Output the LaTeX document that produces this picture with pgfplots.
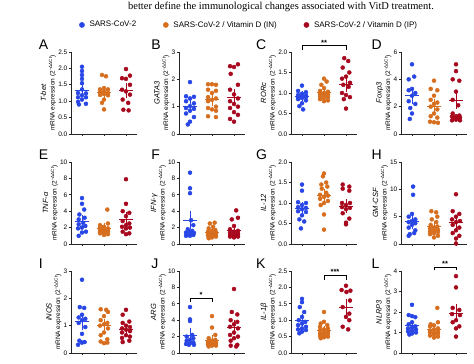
\documentclass[border=0pt]{standalone}
\usepackage{pgfplots}
\pgfplotsset{compat=1.18}
\usepackage{fontspec}
\setmainfont{Liberation Sans}
\newfontfamily\capfont{Liberation Serif}
\definecolor{cb}{RGB}{40,70,230}
\definecolor{co}{RGB}{214,110,30}
\definecolor{cr}{RGB}{168,8,30}
\pgfplotsset{
 panel/.style={
   scale only axis, width=66pt, height=82pt,
   anchor=south west,
   xmin=0.5, xmax=3.5, ymin=0,
   axis lines*=left,
   axis line style={line width=0.7pt, black!85},
   xtick={1,2,3}, xticklabels={},
   tick align=outside,
   major tick length=2.5pt,
   tick style={line width=0.7pt, black!85},
   /pgf/number format/assume math mode=true,
   yticklabel style={font=\fontsize{6.5}{7}\selectfont, inner sep=1pt},
   ylabel style={align=center, font=\fontsize{7.5}{8.5}\selectfont, inner sep=1pt},
   clip=false,
 },
 dec/.style={yticklabel style={/pgf/number format/.cd, fixed, fixed zerofill, precision=1}},
}
\tikzset{letter/.style={font=\fontsize{14}{14}\selectfont, anchor=base west, inner sep=0pt},
 stars/.style={font=\fontsize{7.5}{8}\selectfont\bfseries, anchor=south, inner sep=0.5pt}}
\newcommand{\gl}[1]{\textit{#1}\\{\fontsize{6.5}{7}\selectfont mRNA expression (2\textsuperscript{−ΔΔCt})}}
\newcommand{\pts}[2]{\addplot[forget plot, only marks, mark=*, mark size=2.0pt, color=#1, mark options={fill=#1, draw=#1}] coordinates {#2};}
\newcommand{\ms}[4]{\addplot[forget plot, only marks, mark=-, mark size=7pt, mark options={line width=0.9pt}, color=#1, error bars/.cd, y dir=both, y explicit, error bar style={line width=0.7pt,color=#1}, error mark options={mark size=3.5pt, line width=0.7pt, color=#1}] coordinates {(#2,#3) +- (0,#4)};}
\newcommand{\brk}[1]{\addplot[forget plot, black, line width=0.7pt] coordinates {#1};}
\begin{document}
\begin{tikzpicture}
\path[use as bounding box] (0,0) rectangle (474pt,364pt);
\node[font=\capfont\fontsize{10.5}{12}\selectfont, anchor=base] at (281pt,354pt) {better define the immunological changes associated with VitD treatment.};
% ---------- Row 1 ----------
\begin{axis}[panel, at={(71pt,230pt)}, ymax=2.5, ytick={0,0.5,1,1.5,2,2.5}, dec, ylabel={\gl{T-bet}},
  legend columns=3,
  legend style={at={(2.7,1.33)}, anchor=center, draw=none, fill=none, font=\fontsize{8}{9}\selectfont, /tikz/every even column/.append style={column sep=25pt}, /tikz/every odd column/.append style={column sep=3pt}, inner sep=0pt},
  legend image code/.code={\draw[#1] plot coordinates {(0pt,0pt)};}]
\addlegendimage{only marks, mark=*, mark size=2.6pt, color=cb}
\addlegendimage{only marks, mark=*, mark size=2.6pt, color=co}
\addlegendimage{only marks, mark=*, mark size=2.6pt, color=cr}
\pts{cb}{(1,2.05)(1,1.92)(1,1.80)(1,1.68)(1,1.55)(1,1.36)(0.82,1.25)(1.18,1.24)(1,1.18)(0.82,1.12)(1.18,1.12)(1,1.05)(0.82,0.98)(1.18,0.92)(0.86,0.90)}
\pts{co}{(1.91,1.80)(2.09,1.76)(2,1.40)(1.82,1.36)(2.18,1.36)(2,1.30)(1.82,1.27)(2.18,1.25)(2,1.22)(1.82,1.19)(2.18,1.18)(2,1.05)(1.91,0.95)(2,0.75)}
\pts{cr}{(3,1.98)(3.18,1.78)(2.82,1.70)(3,1.68)(3.18,1.50)(2.82,1.35)(3,1.30)(3.18,1.20)(2.85,1.05)(3.1,0.95)(2.88,0.74)(3.12,0.72)}
\ms{cb}{1}{1.34}{0.09}\ms{co}{2}{1.27}{0.08}\ms{cr}{3}{1.32}{0.12}
\node[letter] at (rel axis cs:-0.49,1.03) {A};
\legend{SARS-CoV-2, SARS-CoV-2 / Vitamin D (IN), SARS-CoV-2 / Vitamin D (IP)}
\end{axis}
\begin{axis}[panel, at={(179pt,230pt)}, ymax=3, ytick={0,1,2,3}, ylabel={\gl{GATA3}}]
\pts{cb}{(1,1.90)(0.82,1.38)(1.18,1.36)(1,1.30)(0.82,1.20)(1.18,1.12)(1,1.02)(0.82,0.95)(1.18,0.92)(1,0.85)(0.82,0.75)(1.18,0.62)(1,0.45)(0.9,0.35)}
\pts{co}{(1.82,1.82)(2,1.82)(2.18,1.80)(1.82,1.62)(2.18,1.58)(2,1.50)(1.82,1.35)(2.18,1.30)(2,1.25)(1.82,1.20)(2.18,1.00)(1.82,0.95)(2,0.90)(2.18,0.85)(1.82,0.65)(2.18,0.62)}
\pts{cr}{(3.18,2.55)(2.82,2.48)(3,2.45)(2.85,2.20)(3.18,1.80)(2.82,1.62)(3,1.45)(3.18,1.30)(2.82,1.20)(3,1.10)(3.18,1.00)(2.82,0.95)(3,0.80)(3.18,0.70)(2.82,0.55)(3,0.45)}
\ms{cb}{1}{1.0}{0.1}\ms{co}{2}{1.25}{0.1}\ms{cr}{3}{1.32}{0.18}
\node[letter] at (rel axis cs:-0.42,1.03) {B};
\end{axis}
\begin{axis}[panel, at={(291pt,230pt)}, ymax=2, ytick={0,0.5,1,1.5,2}, dec, ylabel={\gl{RORc}}]
\pts{cb}{(1,1.18)(0.82,1.05)(1.18,1.02)(1,0.98)(0.82,0.95)(1.18,0.94)(1,0.92)(0.82,0.90)(1.18,0.90)(1,0.88)(0.82,0.85)(1.18,0.82)(1,0.75)(0.88,0.68)(1.05,0.60)}
\pts{co}{(2,1.35)(2.12,1.28)(1.88,1.20)(2,1.12)(1.82,1.05)(2.18,1.03)(2,1.00)(1.82,0.98)(2.18,0.96)(2,0.95)(1.82,0.92)(2.18,0.90)(2,0.88)(1.82,0.85)(2.18,0.82)(2,0.80)}
\pts{cr}{(2.92,1.85)(3.1,1.78)(2.85,1.62)(3.15,1.50)(3,1.40)(2.82,1.35)(3.18,1.25)(2.88,1.20)(3.12,1.15)(2.82,1.00)(3,0.95)(3.18,0.90)(2.9,0.85)(3,0.62)}
\ms{cb}{1}{0.92}{0.04}\ms{co}{2}{1.01}{0.04}\ms{cr}{3}{1.20}{0.09}
\brk{(1,2.06)(1,2.15)(3,2.15)(3,2.06)}
\node[stars] at (axis cs:2,2.15) {**};
\node[letter] at (rel axis cs:-0.53,1.03) {C};
\end{axis}
\begin{axis}[panel, at={(401pt,230pt)}, ymax=6, ytick={0,2,4,6}, ylabel={\gl{Foxp3}}]
\pts{cb}{(1,5.10)(1.1,4.20)(0.85,4.00)(1,3.30)(0.85,3.20)(1.15,3.00)(1,2.80)(0.85,2.40)(1.15,2.20)(0.92,1.90)(1,1.50)(0.9,1.10)}
\pts{co}{(2,3.90)(1.85,3.30)(2.15,3.20)(2,2.80)(1.85,2.50)(2.15,2.30)(2,2.20)(1.85,2.00)(2.15,1.80)(2,1.50)(1.85,1.30)(2.15,1.20)(1.82,0.90)(2,0.86)(2.18,0.82)}
\pts{cr}{(3,5.10)(3,4.60)(2.85,4.00)(3.15,3.90)(3,3.10)(2.85,2.50)(3.1,2.10)(2.85,1.50)(3.15,1.35)(3,1.30)(2.82,1.28)(3.18,1.20)(2.9,1.15)(3.1,1.10)(3,1.05)(2.82,1.00)(3.18,1.00)}
\ms{cb}{1}{2.8}{0.35}\ms{co}{2}{2.05}{0.25}\ms{cr}{3}{2.45}{0.35}
\node[letter] at (rel axis cs:-0.45,1.03) {D};
\end{axis}
% ---------- Row 2 ----------
\begin{axis}[panel, at={(71pt,120pt)}, ymax=10, ytick={0,2,4,6,8,10}, ylabel={\gl{TNF-α}}]
\pts{cb}{(1,5.6)(1,4.9)(1.1,4.2)(0.88,3.6)(1.12,3.2)(0.85,3.0)(1.05,2.6)(0.85,2.4)(1.15,2.2)(1,2.0)(0.82,1.9)(1.18,1.5)(1,1.4)(0.85,1.0)}
\pts{co}{(2.15,4.2)(2.18,2.5)(1.82,2.3)(2,2.1)(1.82,2.0)(2.18,1.9)(2,1.8)(1.82,1.75)(2.18,1.7)(2,1.6)(1.82,1.5)(2.18,1.5)(2,1.4)(1.82,1.3)(2.18,1.2)(2,1.1)}
\pts{cr}{(3,7.9)(3,4.9)(2.85,4.0)(3.15,3.8)(3,3.4)(2.85,2.8)(3.15,2.5)(3,2.3)(2.82,2.1)(3.18,2.0)(3,1.9)(2.85,1.5)(3.15,1.3)(3,1.2)}
\ms{cb}{1}{2.8}{0.35}\ms{co}{2}{1.9}{0.2}\ms{cr}{3}{3.0}{0.5}
\node[letter] at (rel axis cs:-0.49,1.03) {E};
\end{axis}
\begin{axis}[panel, at={(179pt,120pt)}, ymax=10, ytick={0,2,4,6,8,10}, ylabel={\gl{IFN-γ}}]
\pts{cb}{(1,8.7)(1,6.8)(1,6.2)(1.05,2.9)(1.15,2.3)(0.9,1.8)(1.1,1.6)(1,1.5)(0.82,1.4)(1.18,1.35)(1,1.2)(0.85,1.1)(1.15,1.1)(1,1.0)(0.82,1.0)}
\pts{co}{(2.12,2.6)(1.9,2.5)(2.05,2.1)(1.85,1.9)(2.15,1.7)(2,1.6)(1.82,1.5)(2.18,1.4)(2,1.3)(1.82,1.2)(2.18,1.2)(2,1.1)(1.82,1.0)(2.18,0.9)(2,0.8)(1.85,0.7)}
\pts{cr}{(3.1,4.1)(3.18,3.2)(2.9,3.0)(3,2.2)(2.82,1.8)(3.18,1.6)(3,1.5)(2.82,1.4)(3.18,1.3)(3,1.2)(2.82,1.1)(3.18,1.0)(3,1.0)(2.82,0.9)(3.18,0.9)(3,0.8)}
\ms{cb}{1}{2.9}{0.7}\ms{co}{2}{1.45}{0.15}\ms{cr}{3}{1.65}{0.25}
\node[letter] at (rel axis cs:-0.42,1.03) {F};
\end{axis}
\begin{axis}[panel, at={(291pt,120pt)}, ymax=2, ytick={0,0.5,1,1.5,2}, dec, ylabel={\gl{IL-12}}]
\pts{cb}{(1,1.45)(1,1.30)(0.82,1.02)(1.18,1.00)(1,0.95)(0.82,0.90)(1.18,0.88)(1,0.85)(0.82,0.80)(1.18,0.78)(1,0.70)(0.88,0.60)(1.1,0.55)(0.95,0.38)}
\pts{co}{(2,1.72)(1.95,1.65)(2.1,1.5)(1.88,1.45)(2.15,1.40)(1.9,1.35)(2.1,1.25)(1.82,1.20)(2.18,1.18)(2,1.15)(1.82,1.10)(2.18,1.05)(2,1.00)(1.85,0.95)(2,0.72)(2,0.35)}
\pts{cr}{(2.85,1.45)(3.15,1.40)(2.85,1.35)(3.15,1.30)(2.82,1.00)(3.18,1.00)(3,0.95)(2.82,0.90)(3.18,0.88)(3,0.85)(2.85,0.75)(3.15,0.62)(3,0.52)(3,0.48)}
\ms{cb}{1}{0.87}{0.07}\ms{co}{2}{1.18}{0.08}\ms{cr}{3}{0.92}{0.08}
\node[letter] at (rel axis cs:-0.53,1.03) {G};
\end{axis}
\begin{axis}[panel, at={(401pt,120pt)}, ymax=15, ytick={0,5,10,15}, ylabel={\gl{GM-CSF}}]
\pts{cb}{(1.05,10.5)(1.05,9.0)(1,5.5)(0.85,5.0)(1.15,4.5)(1,4.2)(0.85,4.0)(1.15,3.8)(1,3.5)(0.85,3.0)(1.15,2.5)(1.1,2.0)(0.9,1.8)(0.85,1.5)}
\pts{co}{(1.88,6.0)(2.1,5.8)(2.15,5.0)(1.9,4.5)(2.1,4.0)(1.85,3.5)(2.15,3.2)(2,3.0)(1.82,2.8)(2.18,2.6)(2,2.5)(1.82,2.3)(2.18,2.2)(2,2.0)(1.82,1.8)(2.18,1.5)(2,1.2)}
\pts{cr}{(3,9.1)(2.85,6.0)(3.15,5.5)(3,5.0)(2.82,4.5)(3.18,4.2)(3,4.0)(2.85,3.5)(3.15,3.0)(3,2.5)(2.85,2.0)(3.15,1.5)(3,1.0)(3,0.1)}
\ms{cb}{1}{4.1}{0.7}\ms{co}{2}{3.2}{0.35}\ms{cr}{3}{4.0}{0.65}
\node[letter] at (rel axis cs:-0.45,1.03) {H};
\end{axis}
% ---------- Row 3 ----------
\begin{axis}[panel, at={(71pt,11pt)}, ymax=3, ytick={0,1,2,3}, ylabel={\gl{iNOS}}]
\pts{cb}{(1,2.68)(0.9,1.68)(1.1,1.65)(1,1.40)(0.85,1.30)(1.15,1.25)(1,1.20)(0.85,1.10)(1.15,0.95)(1,0.70)(0.88,0.45)(1.12,0.40)(1.0,0.38)(0.82,0.30)}
\pts{co}{(1.85,1.60)(2.1,1.58)(2.18,1.50)(2,1.35)(1.85,1.20)(2.15,1.10)(2,1.05)(1.82,1.00)(2.18,0.90)(2,0.75)(1.85,0.65)(2.15,0.50)(1.85,0.42)(2.15,0.38)(2,0.36)}
\pts{cr}{(3,1.58)(2.85,1.40)(3.15,1.15)(2.85,1.10)(3,1.00)(3.18,0.95)(2.82,0.90)(3,0.85)(3.18,0.80)(2.82,0.75)(3,0.65)(3.18,0.60)(2.82,0.55)(3.15,0.45)(2.85,0.40)}
\ms{cb}{1}{1.15}{0.17}\ms{co}{2}{1.0}{0.11}\ms{cr}{3}{0.87}{0.08}
\node[letter] at (rel axis cs:-0.49,1.03) {I};
\end{axis}
\begin{axis}[panel, at={(179pt,11pt)}, ymax=10, ytick={0,2,4,6,8,10}, ylabel={\gl{ARG}}]
\pts{cb}{(1,5.6)(1,4.1)(1,3.9)(1.1,2.2)(0.85,2.0)(1.15,1.8)(1,1.6)(0.85,1.5)(1.15,1.3)(1,1.2)(0.82,1.1)(1.18,1.0)(0.95,1.0)}
\pts{co}{(2,4.5)(2,3.1)(2.15,2.2)(1.85,1.8)(2.15,1.6)(2,1.5)(1.82,1.4)(2.18,1.3)(2,1.2)(1.82,1.2)(2.18,1.1)(2,1.0)(1.82,1.0)(2.18,0.9)(2,0.9)(1.85,0.8)}
\pts{cr}{(3,7.8)(2.9,5.0)(3.15,4.7)(2.85,4.0)(3.15,3.8)(3,3.5)(2.82,3.2)(3.18,3.0)(3,2.5)(2.82,2.2)(3.18,2.0)(3,1.8)(2.85,1.5)(3.15,1.0)(2.85,0.9)(3.1,0.8)}
\ms{cb}{1}{2.2}{0.4}\ms{co}{2}{1.5}{0.25}\ms{cr}{3}{3.15}{0.5}
\brk{(1,6.2)(1,6.7)(2,6.7)(2,6.2)}
\node[stars] at (axis cs:1.5,6.7) {*};
\node[letter] at (rel axis cs:-0.42,1.03) {J};
\end{axis}
\begin{axis}[panel, at={(291pt,11pt)}, ymax=2.5, ytick={0,0.5,1,1.5,2,2.5}, dec, ylabel={\gl{IL-1β}}]
\pts{cb}{(1,1.65)(1,1.55)(0.9,1.40)(1.1,1.25)(1,1.10)(0.85,1.00)(1.15,0.95)(1,0.90)(0.82,0.85)(1.18,0.80)(1,0.75)(0.82,0.72)(1.18,0.70)(1,0.65)(0.88,0.60)}
\pts{co}{(2,1.25)(2,0.95)(1.85,0.90)(2.15,0.85)(1.82,0.80)(2.18,0.75)(2,0.72)(1.82,0.70)(2.18,0.65)(2,0.62)(1.82,0.60)(2.18,0.58)(2,0.55)(1.82,0.52)(2.18,0.50)(2,0.48)(1.85,0.45)}
\pts{cr}{(3,2.05)(2.8,1.92)(3.2,1.90)(3.02,1.86)(3.18,1.60)(2.85,1.40)(3.15,1.20)(3,1.10)(3.15,1.00)(2.85,0.80)(3.1,0.72)}
\ms{cb}{1}{1.0}{0.08}\ms{co}{2}{0.68}{0.05}\ms{cr}{3}{1.4}{0.14}
\brk{(2,2.22)(2,2.37)(3,2.37)(3,2.22)}
\node[stars] at (axis cs:2.5,2.37) {***};
\node[letter] at (rel axis cs:-0.53,1.03) {K};
\end{axis}
\begin{axis}[panel, at={(401pt,11pt)}, ymax=4, ytick={0,1,2,3,4}, ylabel={\gl{NLRP3}}]
\pts{cb}{(1,2.35)(0.85,1.85)(1,1.80)(1.15,1.75)(1,1.50)(0.85,1.40)(1.15,1.30)(1,1.25)(0.82,1.20)(1.18,1.15)(1,1.10)(0.82,1.05)(1.18,1.00)(1,0.95)(0.88,0.90)}
\pts{co}{(2.15,2.20)(2.18,1.50)(1.85,1.40)(2,1.35)(1.82,1.30)(2.18,1.20)(2,1.15)(1.82,1.10)(2.18,1.05)(2,1.00)(1.82,1.00)(2.18,0.95)(2,0.90)(1.82,0.85)(2.18,0.80)(2,0.75)}
\pts{cr}{(3,3.75)(3,3.20)(2.85,2.20)(3.15,2.10)(2.82,1.90)(3.18,1.85)(3,1.60)(2.85,1.50)(3.15,1.30)(3,1.20)(3,0.80)}
\ms{cb}{1}{1.35}{0.1}\ms{co}{2}{1.15}{0.09}\ms{cr}{3}{1.95}{0.25}
\brk{(2,4.03)(2,4.19)(3,4.19)(3,4.03)}
\node[stars] at (axis cs:2.5,4.19) {**};
\node[letter] at (rel axis cs:-0.45,1.03) {L};
\end{axis}
\end{tikzpicture}
\end{document}
